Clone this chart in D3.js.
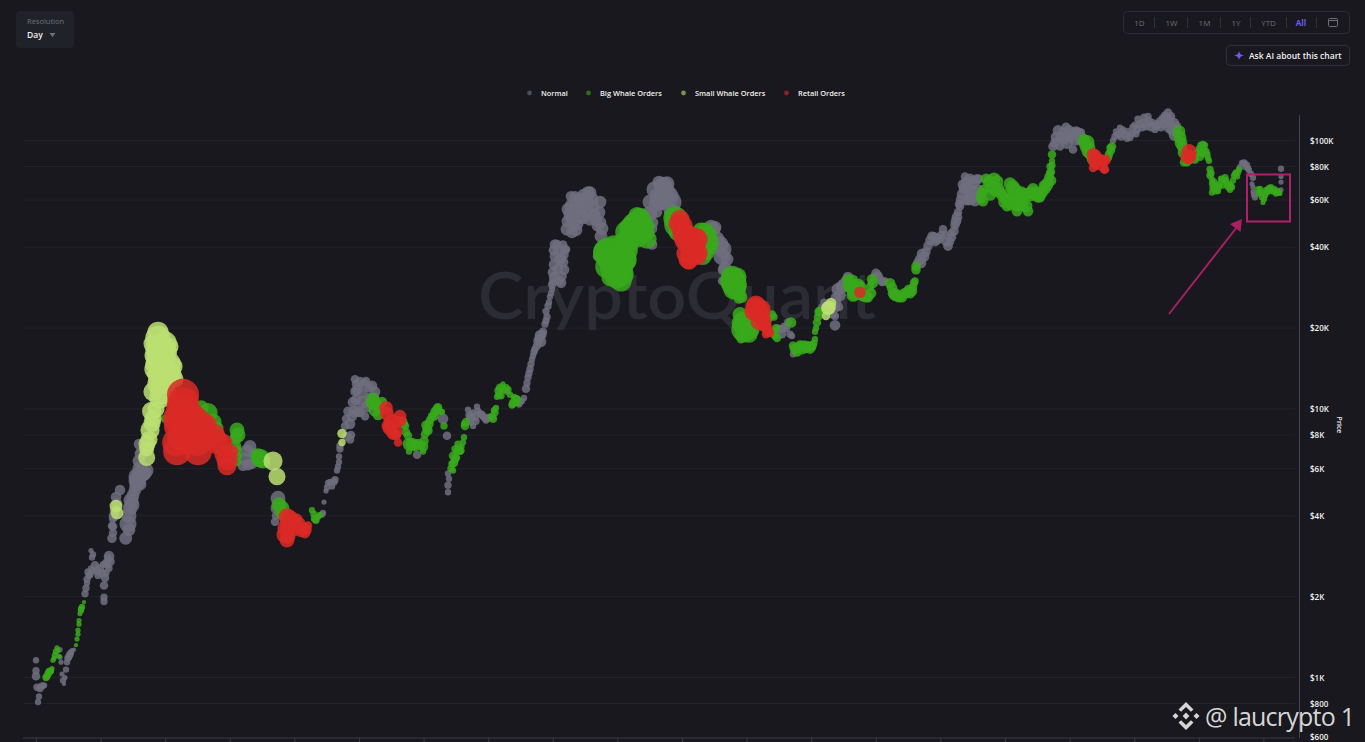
<!DOCTYPE html>
<html><head><meta charset="utf-8">
<script src="https://cdn.jsdelivr.net/npm/d3@7"></script>
<style>
html,body{margin:0;padding:0;background:#18181e;overflow:hidden}
svg{display:block}
text{font-family:"Open Sans","Noto Sans",sans-serif}
</style></head><body>
<svg id="c" width="1365" height="742"></svg>
<script>
// every point: [day since first tick, price in USD, average order size]
const normalOrders=[[0,1160,9],[0,1060,12],[0,1010,16],[3,920,12],[12,910,12],[18,930,12],[24,935,9],[9,850,9],[6,810,9],[72,1270,6],[72,1190,6],[75,1140,6],[78,1030,6],[81,975,9],[84,945,4],[87,1000,6],[90,1070,9],[93,1140,9],[96,1180,12],[99,1200,12],[102,1220,12],[105,1240,9],[108,1260,6],[114,1270,4],
[147,2050,12],[150,2150,12],[153,2250,9],[153,2320,12],[156,2470,12],[159,2400,12],[162,2420,12],[165,2550,9],[174,2500,12],[177,2620,16],[183,2500,16],[186,2400,12],[168,2800,9],[165,2970,6],[171,2870,9],[192,2550,16],[198,2450,16],[204,2200,16],[207,2350,16],[204,1990,12],[204,1920,12],[210,2450,12],[210,2650,16],[219,2550,12],[222,2700,20],[216,2600,9],[216,2800,9],[219,2830,25],[213,2700,16],[201,2640,9],
[228,3300,20],[228,3670,16],[231,3900,16],[231,3650,16],[237,4200,25],[240,4700,25],[269,3300,36],[276,3730,64],[279,4000,49],[279,3550,36],[282,4270,49],[288,4400,49],[291,4770,36],[285,4560,49],[252,4990,25],[234,4000,25],[243,4450,25],[231,3450,16],[297,5000,36],[300,5200,36],[300,5400,49],[303,5600,64],[312,5700,64],[318,5800,64],[324,5750,49],[330,5900,49],[306,5350,49],[312,5250,36],[309,7400,25],[318,7000,25],[315,6800,36],[309,6400,36],[312,6000,49],
[642,7250,36],[627,6500,36],[633,7000,36],[654,6800,30],[660,6400,25],[636,6200,30],[621,6150,25],[648,6250,25],[726,4650,49],[723,4270,36],[717,3800,16],[720,4000,16],
[858,4050,9],[861,4100,9],[864,4500,6],[870,4950,6],[873,5100,9],[876,5300,9],[882,5350,9],[888,5150,9],[894,5350,12],[897,5450,12],[903,5900,9],[906,6100,9],[909,6350,9],[909,6650,9],[912,7100,12],[912,7300,12],[942,7700,16],[927,8650,16],[933,7900,20],[930,9200,16],[936,9800,20],[942,8800,25],[945,8000,16],[948,9400,25],[951,10600,25],[954,9800,30],[960,10800,25],[963,11800,25],[960,12400,16],[957,12900,16],[972,12600,25],[957,11600,20],[966,9800,25],[972,9700,20],[978,11500,30],[984,12500,16],[990,12700,16],[987,9400,16],[993,10200,30],[1002,11000,25],[999,12000,20],[1008,12200,25],[1014,11000,25],[1017,11600,25],[981,10600,36],
[1143,6750,16],[1221,9200,25],[1233,7950,16],[1236,4900,9],[1236,5200,12],[1239,5500,9],[1236,5750,9],[1296,9950,9],[1299,9500,12],[1302,9200,16],[1305,9400,16],[1305,8900,9],[1311,8650,9],[1317,9300,12],[1320,9000,12],[1323,10200,9],[1326,9800,12],[1332,9600,12],[1338,9500,16],[1344,9300,12],[1350,9100,12],[1353,9200,12],[1356,9350,9],[1362,9300,9],[1311,9700,9],
[1413,11600,9],[1449,10400,9],[1452,10600,12],[1458,10700,9],[1464,11000,9],[1470,11900,16],[1473,12500,12],[1476,13100,12],[1479,13600,12],[1482,14100,12],[1485,14700,12],[1488,15300,9],[1491,15800,9],[1494,16300,12],[1497,16700,12],[1503,17200,16],[1506,17900,20],[1509,18300,20],[1512,18800,25],[1515,17800,25],[1518,18900,20],[1521,19400,16],[1527,20700,12],[1530,21300,12],[1530,23100,12],[1533,22000,12],[1536,24200,12],[1539,25000,9],[1542,26200,9],[1545,27000,9],[1548,27900,9],[1548,29000,16],[1551,29700,16],[1551,32300,25],[1554,31000,25],[1554,34500,25],[1554,39000,25],[1557,37000,25],[1557,41000,25],[1563,41000,20],[1569,39000,25],[1587,39300,20],[1590,39300,16],[1584,37500,20],[1581,41000,16],[1581,35200,25],[1575,36500,25],[1572,36000,30],[1584,33000,25],[1578,31200,20],[1566,33200,25],[1569,30000,20],[1575,29500,25],
[1593,46700,36],[1608,45500,30],[1596,50000,36],[1596,55400,36],[1605,53000,49],[1605,62000,25],[1608,57000,49],[1617,62000,25],[1620,58000,49],[1629,60500,36],[1644,62000,49],[1650,60000,49],[1656,64000,36],[1638,56900,49],[1641,52000,49],[1653,56000,49],[1611,50900,49],[1632,52200,49],[1623,49000,36],[1620,46500,36],[1671,56900,36],[1665,60500,49],[1674,53000,36],[1680,50500,30],[1683,48000,25],[1662,50900,36],[1662,64000,36],[1689,54000,36],[1692,59000,36],[1692,49500,36],[1695,44000,36],[1698,47000,36],[1701,40400,36],[1683,37000,16],
[1839,45000,25],[1836,53000,49],[1845,53000,36],[1848,47000,25],[1848,41000,25],[1851,49500,25],[1842,59000,49],[1857,65700,64],[1860,58000,49],[1866,62000,64],[1869,70000,36],[1875,59000,64],[1881,67500,81],[1890,64000,81],[1893,69000,49],[1899,62000,81],[1908,59000,81],[1905,55000,49],[1914,54000,49],[1878,60400,100],[1863,54000,25],
[2025,48000,36],[2031,46700,49],[2037,47500,36],[2043,43000,49],[2052,41000,64],[2058,37000,64],[2061,39300,64],[2067,33500,36],[2073,36100,36],[2073,32000,16],[2079,32000,25],[2061,33000,25],[2058,30000,16],[2073,28400,16],
[2226,20000,12],[2232,19800,16],[2238,19000,16],[2244,20200,16],[2250,20000,16],[2256,21000,16],[2262,19000,12],[2268,18700,9],[2271,16000,9],
[2358,24000,12],[2364,25000,12],[2391,22500,16],[2400,23800,16],[2403,25000,16],[2409,24000,16],[2397,22200,16],[2397,20500,25],[2400,26000,25],[2406,27900,36],[2412,26500,30],[2418,28500,36],[2424,29000,36],[2430,30000,25],[2436,31000,25],[2514,31000,16],[2520,32000,20],[2526,31300,20],[2532,30500,16],[2538,29700,16],[2541,29800,16],[2547,30000,12],
[2643,35000,16],[2652,36000,25],[2655,35000,25],[2658,37800,25],[2664,37000,25],[2670,38500,20],[2676,40500,20],[2682,42500,20],[2688,44000,20],[2694,43800,20],[2697,42200,25],[2703,43000,25],[2709,43000,20],[2715,44500,16],[2721,46700,16],[2727,44500,16],[2730,42000,20],[2736,40400,20],[2742,42000,16],[2745,45000,16],[2748,43600,16],[2754,46000,20],[2757,48500,20],[2760,50000,25],[2763,51800,25],[2766,54000,16],[2769,58000,16],[2772,56900,16],[2775,60000,25],[2778,63000,25],[2784,66000,25],[2787,73500,16],[2790,70000,25],[2790,60000,25],[2781,68500,25],[2796,67000,36],[2799,60000,25],[2802,72000,25],[2805,61000,36],[2808,64000,49],[2811,70000,36],[2817,60000,36],[2823,71600,25],[2826,65000,36],[2829,72000,16],
[3051,95000,20],[3057,98300,20],[3060,103000,25],[3066,109000,25],[3072,95000,16],[3075,103000,25],[3081,107000,25],[3084,102000,36],[3090,112000,20],[3093,98300,36],[3099,109000,25],[3102,103000,25],[3108,105000,25],[3111,92600,16],[3114,107000,25],[3117,100000,25],[3120,108000,25],[3126,107000,25],[3129,100000,16],[3135,107000,16],[3138,98000,16],[3141,103500,9],
[3231,100000,9],[3237,103500,12],[3240,108000,9],[3246,105000,12],[3252,111500,9],[3255,103000,12],[3258,108000,12],[3261,110000,9],[3267,105000,16],[3273,102000,12],[3276,108000,12],[3282,102500,12],[3288,106000,12],[3291,112000,12],[3297,114000,12],[3300,106000,12],[3303,110000,16],[3306,120000,12],[3312,115000,16],[3318,112000,16],[3324,122000,12],[3327,117000,16],[3330,113000,16],[3336,122800,12],[3339,118000,16],[3345,112000,16],[3351,116000,16],[3357,110000,12],[3360,113000,16],[3366,115000,16],[3372,118000,16],[3375,112000,16],[3381,121000,16],[3384,115000,16],[3387,124000,16],[3396,127000,16],[3393,120000,25],[3399,118000,25],[3402,112000,36],[3405,123000,16],[3411,110000,36],[3414,116000,25],[3417,105000,36],[3420,108000,25],[3423,113000,16],[3426,107000,16],
[3612,79500,9],[3618,82500,9],[3624,82500,12],[3627,82000,9],[3630,79500,9],[3633,81000,9],[3636,79000,9],[3639,77500,9],[3645,75000,9],[3651,72700,9],[3648,69000,6],[3651,67000,6],[3651,64500,6],[3654,63000,9],[3657,61500,9],[3735,78500,9],[3735,73500,6],[3735,70000,6],[3735,65500,6]];
const bigWhaleOrders=[[30,1000,12],[33,1010,12],[36,1030,12],[39,1050,12],[42,1055,12],[45,1060,9],[48,1080,6],[51,1160,6],[54,1180,6],[57,1210,9],[60,1250,9],[63,1290,6],[66,1260,6],[69,1200,6],[120,1320,4],[123,1390,6],[126,1450,6],[126,1500,6],[129,1580,6],[129,1630,6],[132,1730,6],[135,1780,9],[135,1800,9],[138,1830,9],[144,1910,4],
[387,9200,16],[495,10100,49],[516,9700,81],[531,8950,64],[543,8500,36],[555,8000,16],[603,8350,49],[606,8000,49],[600,7800,36],[597,7250,36],[600,7000,30],[606,6700,16],[603,6350,16],[666,6700,49],[672,6500,64],[675,6600,64],[681,6400,49],[729,4400,49],[735,4150,36],[741,4050,36],[738,4270,49],[828,4200,9],[834,4050,12],[837,3900,16],[840,3850,12],[846,3970,9],[852,4030,9],
[1005,10500,25],[1011,10900,36],[1017,9900,36],[1020,10400,36],[1026,9500,25],[1029,10200,30],[1038,10600,25],[1101,9000,16],[1104,8800,16],[1107,8650,16],[1110,8200,16],[1116,7950,16],[1119,7400,36],[1128,7400,36],[1119,6950,9],[1137,7300,30],[1146,7400,25],[1155,7300,16],[1161,7250,25],[1161,6950,9],[1164,7600,20],[1167,8050,16],[1170,8700,20],[1173,8400,20],[1176,8300,20],[1179,8800,20],[1182,9100,16],[1188,9400,16],[1194,9400,20],[1197,9750,20],[1203,10000,20],[1206,10150,16],[1212,9800,12],[1218,9750,9],[1224,8650,12],
[1245,6000,12],[1251,5900,9],[1248,6250,12],[1254,6300,16],[1257,6500,16],[1260,6600,16],[1251,6700,16],[1257,7100,12],[1263,6950,12],[1269,7100,16],[1272,6950,12],[1275,7000,12],[1266,7400,12],[1278,7250,6],[1281,7500,9],[1284,7850,9],[1287,8650,16],[1290,8950,16],[1284,8800,9],
[1368,9350,16],[1371,9200,16],[1374,9900,9],[1377,9700,12],[1380,10100,9],[1383,11100,9],[1386,11700,12],[1389,11300,12],[1392,12000,16],[1395,11200,12],[1401,12400,6],[1398,11900,16],[1404,11800,12],[1410,12000,12],[1416,11800,12],[1422,11300,9],[1428,10350,12],[1431,10500,16],[1437,10700,20],[1440,10900,16],[1443,10600,12],[1446,10900,9],[1434,11100,9],
[1704,38500,100],[1713,33900,121],[1716,38200,196],[1722,30800,64],[1725,36500,169],[1734,33500,169],[1737,39000,196],[1743,31000,121],[1746,35300,196],[1749,37500,169],[1752,32400,144],[1755,30000,100],[1755,36000,196],[1758,31700,121],[1761,39300,196],[1767,36000,121],[1770,41000,121],[1773,45500,121],[1779,43000,121],[1785,47000,121],[1785,44000,100],[1791,47900,121],[1797,49000,121],[1800,47000,121],[1803,52500,64],[1806,43800,100],[1812,50900,100],[1812,52200,64],[1818,49000,100],[1821,45500,100],[1830,47700,64],[1833,42900,81],
[1911,52000,64],[1917,51500,121],[1923,48700,144],[1929,46000,100],[1995,46000,64],[1998,40000,100],[2001,37000,64],[2007,46000,64],[2013,38200,49],[2016,42000,100],[2019,45000,49],[2022,40000,49],
[2085,29000,81],[2088,31200,100],[2091,30000,144],[2094,28000,100],[2097,29100,121],[2100,27800,81],[2103,31000,81],[2106,28500,64],[2109,25800,25],[2112,26700,36],[2118,26000,25],
[2106,21000,36],[2109,20300,36],[2112,22500,49],[2118,21500,64],[2121,19800,121],[2127,21000,100],[2133,19500,81],[2136,20200,81],[2139,19000,64],[2145,19700,64],[2112,18800,25],[2115,18200,16],[2124,18500,25],[2151,20400,36],[2199,21800,16],[2208,22500,16],[2214,22000,12],[2211,19400,16],[2217,18800,16],[2220,20000,16],[2223,18400,16],
[2265,21000,25],[2271,17200,16],[2277,16700,25],[2283,16300,20],[2286,17000,20],[2292,17300,20],[2298,16700,25],[2301,17200,25],[2307,17200,25],[2310,16900,25],[2316,17100,25],[2322,16700,20],[2328,17000,16],[2328,17200,20],[2334,17600,12],[2337,18200,9],[2337,19400,9],[2340,20000,9],[2343,21000,16],[2346,22000,16],[2349,23000,20],[2352,23200,16],
[2436,30400,25],[2442,29000,49],[2448,28400,49],[2448,30000,36],[2451,26500,36],[2457,27000,49],[2463,27800,49],[2466,29000,36],[2472,28400,36],[2478,26700,36],[2484,26500,36],[2490,26200,30],[2496,26100,25],[2502,28500,16],[2505,27000,25],[2508,30400,25],[2511,29500,25],
[2562,29400,25],[2568,28300,25],[2571,27000,25],[2577,26700,36],[2583,26400,30],[2589,26100,25],[2598,26100,25],[2604,26900,25],[2613,27200,25],[2619,27800,25],[2622,27000,25],[2628,27500,25],[2631,28400,16],[2634,29500,16],[2637,30000,12],[2640,33000,20],[2640,34000,20],
[2835,61000,25],[2838,64000,25],[2841,59400,25],[2844,65500,25],[2850,72000,25],[2856,69700,25],[2859,71000,25],[2862,63000,36],[2868,67000,36],[2874,72000,36],[2877,65000,30],[2883,70300,36],[2886,66000,36],[2892,64000,30],[2898,62000,25],[2904,59000,30],[2907,61000,25],[2913,56900,25],[2919,64000,25],[2922,69000,36],[2925,58000,36],[2931,67500,36],[2934,60000,49],[2937,65000,49],[2943,58800,64],[2943,54500,25],[2949,58000,49],[2955,64000,36],[2958,58000,36],[2961,61000,36],[2967,63000,36],[2970,57000,36],[2976,54500,25],[2982,62000,25],[2985,64000,36],[2991,66000,30],[2997,63000,36],[3003,64000,36],[3006,62000,36],[3012,61500,25],[3018,64000,30],[3024,68000,25],[3027,66000,30],[3033,68500,36],[3036,70300,25],[3039,73000,20],[3045,71000,25],[3042,75500,16],[3045,76500,16],[3042,80000,12],[3048,80700,12],[3048,84000,9],[3048,88700,16],
[3144,100000,36],[3150,95000,36],[3153,98300,49],[3156,91000,36],[3159,94000,36],[3162,88700,25],[3165,85000,16],[3216,86500,16],[3219,89000,16],[3222,94000,12],[3225,92000,16],[3228,95000,16],
[3429,108000,36],[3432,102500,36],[3435,98000,36],[3438,95000,25],[3441,90000,25],[3444,83000,16],[3447,86500,16],[3453,83000,16],[3459,84500,16],[3465,85000,16],[3471,86500,16],[3477,85000,16],[3483,90000,16],[3489,93000,12],[3492,87000,16],[3495,96000,12],[3498,90000,16],[3501,96600,12],[3504,92000,12],[3507,96000,9],[3510,91000,12],[3513,88700,12],[3516,86000,9],[3519,84000,9],
[3522,78000,12],[3522,74000,12],[3525,75500,12],[3528,71600,9],[3528,69000,9],[3531,66500,12],[3534,70000,12],[3537,67000,16],[3528,64000,9],[3540,65000,12],[3543,68000,12],[3546,64800,9],[3549,67000,9],[3552,69000,9],[3555,72000,9],[3558,71600,9],[3561,68000,9],[3564,71000,9],[3567,72700,12],[3570,71000,9],[3573,68500,9],[3576,67000,9],[3579,69000,9],[3582,65500,9],[3585,68000,9],[3588,67000,9],[3591,71000,9],[3594,74000,9],[3597,75000,9],[3600,76000,9],[3603,73500,9],[3606,76000,9],[3609,78000,9],
[3666,65700,9],[3669,63500,9],[3672,66000,9],[3675,64000,9],[3678,61500,9],[3681,58800,6],[3684,60500,9],[3687,62500,9],[3690,65500,9],[3693,64000,9],[3696,65500,9],[3699,66500,9],[3702,65000,9],[3705,67000,9],[3708,65500,9],[3711,64500,9],[3714,66000,9],[3717,64800,9],[3720,63500,9],[3723,65000,9],[3726,63800,6],[3729,64500,6],[3732,63500,6]];
const smallWhaleOrders=[[240,4350,36],[243,4100,36],[332,6600,64],[333,7400,64],[332,7100,49],[339,7700,64],[342,8350,81],[348,8850,64],[351,9200,64],[347,9800,81],[360,10000,64],[351,11600,81],[372,11000,100],[366,12400,100],[357,14100,100],[360,14700,100],[366,16700,144],[372,15400,169],[366,18300,144],[366,19300,100],[387,17600,121],[396,14700,144],[387,13500,169],[402,17100,64],[411,14400,81],[408,13500,81],[417,12900,64],[381,13200,196],[351,15800,64],[348,17500,64],[348,13500,25],[378,16300,196],[381,11600,144],
[711,6400,81],[723,5600,64],[918,8100,20],[918,7500,12],[2370,22200,16],[2376,23700,42],[2379,23900,42],[2385,24800,25]];
const retailOrders=[[441,11300,225],[441,10500,225],[438,9900,225],[432,8650,225],[426,9200,196],[420,7500,169],[423,6950,169],[492,8650,169],[486,6950,169],[483,7500,169],[477,9100,169],[462,8500,196],[465,7600,169],[456,9400,225],[441,7950,225],[507,8700,121],[513,7700,100],[537,8100,81],[543,7500,121],[558,7400,100],[564,6800,81],[573,6500,100],[573,6150,81],[588,6950,36],
[747,3400,64],[750,3600,64],[753,3970,64],[753,3250,49],[756,3700,64],[756,3350,49],[762,3900,64],[768,3720,64],[774,3550,36],[777,3800,36],[783,3900,25],[789,3750,36],[795,3500,30],[801,3600,36],[807,3450,25],[810,3550,30],[816,3680,16],
[1050,10100,42],[1053,9600,42],[1056,8650,36],[1062,8500,49],[1065,9000,49],[1071,8100,36],[1077,8250,49],[1080,8000,25],[1083,9000,30],[1086,7500,16],[1092,9400,36],[1095,9000,25],
[1926,49000,81],[1932,50900,81],[1938,48000,100],[1941,45500,100],[1947,44500,121],[1950,38000,81],[1953,43000,144],[1956,36100,81],[1959,35500,64],[1962,42000,144],[1965,38000,100],[1971,42500,144],[1974,39000,100],[1983,42900,100],[1983,38200,100],[1986,37000,64],
[2151,23000,64],[2157,24000,81],[2160,24400,81],[2166,23200,100],[2169,21200,64],[2175,23500,81],[2178,22000,64],[2181,21600,49],[2184,20800,49],[2187,20400,36],[2190,19000,16],[2193,20000,25],[2196,19500,25],[2202,19200,16],[2472,27200,30],
[3171,88700,36],[3171,79000,16],[3174,84000,36],[3177,88000,36],[3177,80000,16],[3180,83000,25],[3186,85000,36],[3192,81000,25],[3195,85000,25],[3198,82500,16],[3204,78000,16],[3204,82000,16],[3207,78000,16],[3210,86000,12],[3213,84000,12],[3456,87000,49],[3459,91000,49],[3462,87000,36]];
const seriesNames=["Normal","Big Whale Orders","Small Whale Orders","Retail Orders"];
const seriesData=[normalOrders,bigWhaleOrders,smallWhaleOrders,retailOrders];
const seriesColors=["#706f7f","#39a91c","#bcdf72","#da2a26"];
const priceTicks=[100000,80000,60000,40000,20000,10000,8000,6000,4000,2000,1000,800,600];
const rangeLabels=["1D","1W","1M","1Y","YTD","All"];
const dayTicks=d3.range(0,20).map(i=>i*193.8);

const svg=d3.select("#c");
svg.append("rect").attr("width",1365).attr("height",742).attr("fill","#18181e");

const x=d3.scaleLinear().domain([0,3777]).range([36,1295]);
const y=d3.scaleLog().domain([1000,100000]).range([677.5,140.5]);
const r=d3.scaleSqrt().domain([0,225]).range([0,16]);

// grid
svg.append("g").selectAll("line").data(priceTicks.slice(0,-1)).join("line")
  .attr("x1",23).attr("x2",1295).attr("y1",d=>y(d)).attr("y2",d=>y(d))
  .attr("stroke","#222329").attr("stroke-width",1);

// watermark
svg.append("text").attr("x",478).attr("y",319).attr("font-size",65).attr("font-weight",600).attr("fill","#2b2c34")
  .style("font-family","Lato,Inter,Roboto,sans-serif").attr("textLength",398).attr("lengthAdjust","spacingAndGlyphs").text("CryptoQuant");

// bottom axis
const xAxis=d3.axisBottom(x).tickValues(dayTicks).tickFormat("").tickSize(5);
const gx=svg.append("g").attr("transform","translate(0,737.5)").call(xAxis);
gx.select(".domain").attr("stroke","#3a3b44").attr("d","M23,0.5H1295");
gx.selectAll("line").attr("stroke","#3a3b44");

// right axis
const yAxis=d3.axisRight(y).tickValues(priceTicks).tickSize(0)
  .tickFormat(d=>d>=1000?"$"+d/1000+"K":"$"+d);
const gy=svg.append("g").attr("transform","translate(1299.5,0)").call(yAxis);
gy.select(".domain").attr("stroke","#44454e").attr("d","M0,115V738");
gy.selectAll("text").attr("x",10.5).attr("fill","#f2f2f2").attr("font-size",8).attr("font-weight",600);
svg.append("text").attr("transform","translate(1337,425) rotate(90)").attr("text-anchor","middle")
  .attr("font-size",7).attr("font-weight",600).attr("fill","#e8e8e8").text("Price");

// points
seriesData.forEach((pts,i)=>{
  svg.append("g").selectAll("circle").data(pts).join("circle")
    .attr("cx",d=>x(d[0])).attr("cy",d=>y(d[1])).attr("r",d=>r(d[2]))
    .attr("fill",seriesColors[i]).attr("fill-opacity",0.85);
});

// legend
const legendDot=[529.5,588.5,683.5,786.5];
const legend=svg.append("g").selectAll("g").data(seriesNames).join("g")
  .attr("transform",(d,i)=>`translate(${legendDot[i]},93)`);
legend.append("circle").attr("r",2.4).attr("fill",(d,i)=>seriesColors[i]).attr("fill-opacity",0.6);
legend.append("text").attr("x",11.5).attr("y",2.8).attr("font-size",7.4).attr("font-weight",600)
  .attr("fill","#f2f2ea").text(d=>d);

// resolution control
svg.append("rect").attr("x",16).attr("y",11).attr("width",58).attr("height",37).attr("rx",4).attr("fill","#20222a");
svg.append("text").attr("x",27).attr("y",24).attr("font-size",7.5).attr("fill","#6f7078").text("Resolution");
svg.append("text").attr("x",27).attr("y",38).attr("font-size",8.5).attr("font-weight",600).attr("fill","#f0f0f0").text("Day");
svg.append("path").attr("d","M49.5,33H55.5L52.5,37Z").attr("fill","#70717a");

// range selector
svg.append("rect").attr("x",1123.5).attr("y",11.5).attr("width",226).attr("height",22).attr("rx",4)
  .attr("fill","none").attr("stroke","#2b2d34");
const rangeX=[1139.5,1171.5,1204.5,1236,1268.5,1301];
svg.append("g").selectAll("text").data(rangeLabels).join("text")
  .attr("x",(d,i)=>rangeX[i]).attr("y",25.5).attr("text-anchor","middle").attr("font-size",8)
  .attr("font-weight",d=>d==="All"?700:400)
  .attr("fill",d=>d==="All"?"#6a5cf5":"#6d6f78").text(d=>d);
svg.append("g").selectAll("line").data([1154.5,1187.5,1220.5,1250.5,1286.5,1316.5]).join("line")
  .attr("x1",d=>d).attr("x2",d=>d).attr("y1",17).attr("y2",28).attr("stroke","#2f3138");
svg.append("rect").attr("x",1328.5).attr("y",18.5).attr("width",9).attr("height",8).attr("rx",1)
  .attr("fill","none").attr("stroke","#6d6f78");
svg.append("line").attr("x1",1328.5).attr("x2",1337.5).attr("y1",20.5).attr("y2",20.5).attr("stroke","#6d6f78");

// ask AI
svg.append("rect").attr("x",1226.5).attr("y",45.5).attr("width",123).attr("height",20).attr("rx",4)
  .attr("fill","none").attr("stroke","#2f3138");
svg.append("path").attr("d","M1239,51 Q1239.6,55.2 1244,55.5 Q1239.6,55.8 1239,60 Q1238.4,55.8 1234,55.5 Q1238.4,55.2 1239,51Z").attr("fill","#6a5cf5");
svg.append("text").attr("x",1249).attr("y",59).attr("font-size",8.5).attr("font-weight",600).attr("fill","#f0f0f0").text("Ask AI about this chart");

// annotation
svg.append("rect").attr("x",1247).attr("y",174.5).attr("width",43).attr("height",47).attr("fill","none")
  .attr("stroke","#b01f6b").attr("stroke-width",2);
svg.append("line").attr("x1",1169).attr("y1",314).attr("x2",1237).attr("y2",227).attr("stroke","#a81f63").attr("stroke-width",2);
svg.append("path").attr("d","M1242,219 L1240.5,232 L1230,224Z").attr("fill","#a81f63");

// credit
const logo=svg.append("g").attr("transform","translate(1186,716)").attr("fill","#d6d6d6");
logo.append("path").attr("d","M0,-3.4L3.4,0L0,3.4L-3.4,0Z");
logo.append("path").attr("d","M0,-14L7.5,-6.5L4.9,-4.2L0,-9L-4.9,-4.2L-7.5,-6.5Z");
logo.append("path").attr("d","M0,14L7.5,6.5L4.9,4.2L0,9L-4.9,4.2L-7.5,6.5Z");
logo.append("path").attr("d","M-13.5,0L-10.5,-3L-7.5,0L-10.5,3Z");
logo.append("path").attr("d","M13.5,0L10.5,-3L7.5,0L10.5,3Z");
svg.append("text").attr("x",1205).attr("y",726).attr("font-size",25).attr("fill","#d6d6d6")
  .attr("textLength",150).text("@ laucrypto 1");
</script></body></html>
